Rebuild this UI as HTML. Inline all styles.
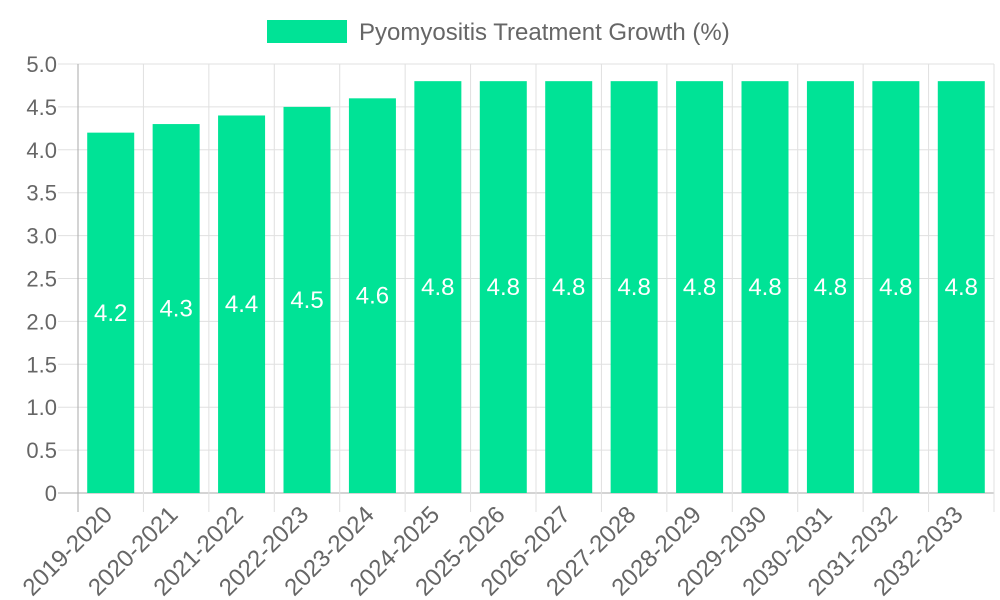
<!DOCTYPE html>
<html><head><meta charset="utf-8"><style>
body{margin:0;background:#fff;}
svg{display:block;font-family:"Liberation Sans",sans-serif;}
</style></head><body>
<svg id="c" width="1000" height="600"></svg>
<script>
const categories=["2019-2020","2020-2021","2021-2022","2022-2023","2023-2024","2024-2025","2025-2026","2026-2027","2027-2028","2028-2029","2029-2030","2030-2031","2031-2032","2032-2033"];
const values=[4.2,4.3,4.4,4.5,4.6,4.8,4.8,4.8,4.8,4.8,4.8,4.8,4.8,4.8];
const yTicks=[0,0.5,1,1.5,2,2.5,3,3.5,4,4.5,5];
const yTickLabels=["0","0.5","1.0","1.5","2.0","2.5","3.0","3.5","4.0","4.5","5.0"];
const seriesName="Pyomyositis Treatment Growth (%)";
const NS="http://www.w3.org/2000/svg";
const svg=document.getElementById('c');
const L=78,R=994,T=64,B=493,yMax=5;
const step=(R-L)/categories.length;
const y=v=>B-(v/yMax)*(B-T);
const xc=i=>L+step*(i+0.5);
function mk(t,a,p){const e=document.createElementNS(NS,t);for(const k in a)e.setAttribute(k,a[k]);(p||svg).appendChild(e);return e;}
yTicks.forEach((t,i)=>{
  const g=mk('line',{x1:58,x2:R,y1:y(t),y2:y(t),stroke:t===0?'#aaa':'#e0e0e0','stroke-width':1});
  
  
  const tx=mk('text',{x:57,y:y(t)+8,'text-anchor':'end','font-size':22,fill:'#666'});
  tx.textContent=yTickLabels[i];
  
  
});
for(let i=0;i<=categories.length;i++){
  const gx=L+step*i;
  const g=mk('line',{x1:gx,x2:gx,y1:T,y2:512,stroke:i===0?'#aaa':'#e0e0e0','stroke-width':1});
  
  
}
const bw=47;
categories.forEach((c,i)=>{
  const r=mk('rect',{x:xc(i)-bw/2,y:y(values[i]),width:bw,height:B-y(values[i]),fill:'#00e396'});
  
  
  const v=mk('text',{x:xc(i),y:(y(values[i])+B)/2+8,'text-anchor':'middle','font-size':24,fill:'#fff'});
  v.textContent=values[i];
  
  
  const lx=xc(i)+3,ly=516;
  const t=mk('text',{x:lx,y:ly,'text-anchor':'end','font-size':24,fill:'#666',transform:`rotate(-45 ${lx} ${ly})`});
  t.textContent=c;
  
  
});
const lg=mk('g',{});


mk('rect',{x:267,y:20,width:80,height:23,fill:'#00e396'},lg);
const lt=mk('text',{x:359,y:40,'font-size':24,fill:'#666'},lg);
lt.textContent=seriesName;
</script>
</body></html>
